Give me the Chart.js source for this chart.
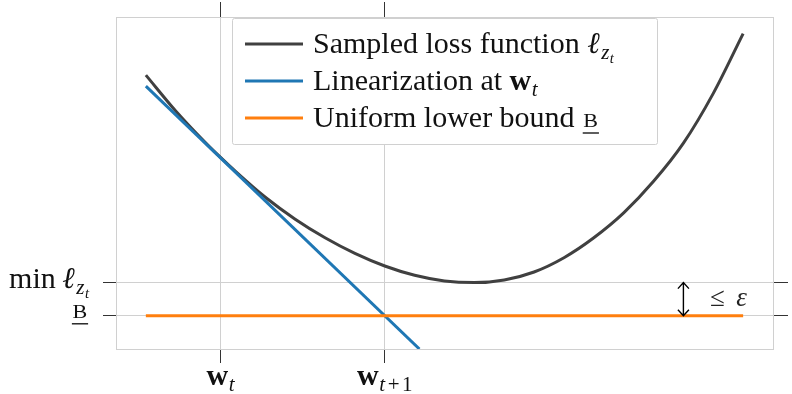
<!DOCTYPE html>
<html>
<head>
<meta charset="utf-8">
<script src="https://cdn.jsdelivr.net/npm/chart.js@4/dist/chart.umd.min.js"></script>
<style>
  html, body { margin: 0; padding: 0; background: #ffffff; }
  #wrap { width: 792px; height: 394px; }
</style>
</head>
<body>
<div id="wrap"><canvas id="c" width="792" height="394"></canvas></div>
<script>
// ---------------- data ----------------
const lossX = [0, 0.5, 1, 1.25, 1.5, 2, 2.5, 3, 3.5, 4, 4.5, 5, 5.5, 6, 6.5, 7, 7.5, 8, 8.5, 9, 9.5, 10];
const lossY = [7.25, 6.17, 5.21, 4.77, 4.35, 3.57, 2.91, 2.35, 1.88, 1.50, 1.22, 1.05, 1.00, 1.08, 1.32, 1.75, 2.35, 3.10, 4.05, 5.20, 6.70, 8.50];
const linX = [0, 4.58];
const linY = [6.92, -1.0];
const boundX = [0, 10];
const boundY = [0, 0];
const seriesNames = [
  'Sampled loss function $\\ell_{z_t}$',
  'Linearization at $\\mathbf{w}_t$',
  'Uniform lower bound $\\underline{B}$'
];
const xTickValues = [1.25, 4];
const xTickLabels = ['$\\mathbf{w}_t$', '$\\mathbf{w}_{t+1}$'];
const yTickValues = [0, 1];
const yTickLabels = ['$\\underline{B}$', '$\\min \\ell_{z_t}$'];
const gapX = 9;          // position of the epsilon annotation
const gapFrom = 0, gapTo = 1;
const gapLabel = '$\\leq \\varepsilon$';

// ---------------- styling ----------------
const FONT = 'Liberation Serif';
const TXT = '#111111';
const GRID = '#d0d0d0';
const TICK = '#333333';
const COLORS = ['#404040', '#1f77b4', '#ff7f0e'];

// --------- tiny TeX-like text renderer (canvas text) ----------
function glyphs(ctx, t, x, y, size, style, draw, hscale) {
  ctx.font = style + size + 'px "' + FONT + '"';
  const w = ctx.measureText(t).width * (hscale || 1);
  if (draw) {
    if (hscale && hscale !== 1) {
      ctx.save(); ctx.translate(x, y); ctx.scale(hscale, 1); ctx.fillText(t, 0, 0); ctx.restore();
    } else ctx.fillText(t, x, y);
  }
  return w;
}
function group(s, i) {
  let depth = 0, j = i;
  for (; j < s.length; j++) {
    if (s[j] === '{') depth++;
    else if (s[j] === '}') { depth--; if (depth === 0) break; }
  }
  return [s.slice(i + 1, j), j + 1];
}
function runMath(ctx, s, x, y, size, draw) {
  let i = 0, cx = x;
  while (i < s.length) {
    const c = s[i];
    if (c === '\\') {
      const m = /^\\([a-zA-Z]+)/.exec(s.slice(i));
      const cmd = m[1]; i += m[0].length;
      if (cmd === 'mathbf') {
        const r = group(s, i); i = r[1];
        cx += glyphs(ctx, r[0], cx, y, size, 'bold ', draw);
      } else if (cmd === 'underline') {
        const r = group(s, i); i = r[1];
        const w = glyphs(ctx, r[0], cx + size * 0.04, y, size * 0.64, '', draw, 1.15);
        if (draw) {
          ctx.save(); ctx.strokeStyle = TXT; ctx.lineWidth = Math.max(1, size * 0.045);
          ctx.beginPath(); ctx.moveTo(cx + size * 0.02, y + size * 0.2); ctx.lineTo(cx + w + size * 0.07, y + size * 0.2); ctx.stroke();
          ctx.restore();
        }
        cx += w + size * 0.1;
      } else if (cmd === 'ell') {
        cx += glyphs(ctx, '\u2113', cx, y, size, 'italic ', draw) + size * 0.03;
      } else if (cmd === 'min') {
        cx += glyphs(ctx, 'min', cx, y, size, '', draw) + size * 0.22;
      } else if (cmd === 'varepsilon') {
        cx += glyphs(ctx, '\u03b5', cx, y, size, 'italic ', draw);
      } else if (cmd === 'leq') {
        cx += size * 0.28;
        cx += glyphs(ctx, '\u2264', cx, y, size, '', draw) + size * 0.42;
      }
    } else if (c === '_') {
      i++;
      let arg;
      if (s[i] === '{') { const r = group(s, i); arg = r[0]; i = r[1]; }
      else { arg = s[i]; i++; }
      cx += runMath(ctx, arg, cx + size * 0.02, y + size * 0.2, size * 0.7, draw) + size * 0.02;
    } else if (c === ' ') {
      i++;
    } else if (c === '+') {
      cx += size * 0.12;
      cx += glyphs(ctx, '+', cx, y, size, '', draw) + size * 0.12;
      i++;
    } else {
      const isLetter = /[a-zA-Z]/.test(c);
      cx += glyphs(ctx, c, cx, y, size, isLetter ? 'italic ' : '', draw);
      i++;
    }
  }
  return cx - x;
}
function rich(ctx, s, x, y, size, draw) {
  let cx = x;
  s.split('$').forEach((p, k) => {
    if (k % 2 === 1) cx += runMath(ctx, p, cx, y, size, draw);
    else cx += glyphs(ctx, p, cx, y, size, '', draw);
  });
  return cx - x;
}

// ---------------- overlay plugin: legend, math tick labels, annotation ----------------
const overlay = {
  id: 'overlay',
  afterDraw(chart) {
    const ctx = chart.ctx;
    const xs = chart.scales.x, ys = chart.scales.y, area = chart.chartArea;
    ctx.save();
    ctx.fillStyle = TXT;
    ctx.textBaseline = 'alphabetic';
    ctx.textAlign = 'left';
    const S = 30;

    // x tick labels (centered on ticks)
    xTickValues.forEach((v, k) => {
      const w = rich(ctx, xTickLabels[k], 0, 0, S, false);
      rich(ctx, xTickLabels[k], xs.getPixelForValue(v) - w / 2, area.bottom + 36, S, true);
    });
    // y tick labels (right aligned)
    yTickValues.forEach((v, k) => {
      const w = rich(ctx, yTickLabels[k], 0, 0, S, false);
      rich(ctx, yTickLabels[k], area.left - 27 - w, ys.getPixelForValue(v) + (k === 0 ? 2 : 5), S, true);
    });

    // epsilon gap annotation
    const ax = xs.getPixelForValue(gapX);
    const y0 = ys.getPixelForValue(gapFrom), y1 = ys.getPixelForValue(gapTo);
    ctx.strokeStyle = '#000'; ctx.lineWidth = 1.4;
    ctx.beginPath();
    ctx.moveTo(ax, y0); ctx.lineTo(ax, y1);
    ctx.moveTo(ax - 5.5, y1 + 6); ctx.lineTo(ax, y1); ctx.lineTo(ax + 5.5, y1 + 6);
    ctx.moveTo(ax - 5.5, y0 - 6); ctx.lineTo(ax, y0); ctx.lineTo(ax + 5.5, y0 - 6);
    ctx.stroke();
    ctx.fillStyle = '#222';
    rich(ctx, gapLabel, ax + 19, (y0 + y1) / 2 + 7, 27, true);

    // legend
    const lx = 232, ly = 18, lw = 425, lh = 126;
    ctx.fillStyle = '#ffffff';
    ctx.strokeStyle = GRID; ctx.lineWidth = 1;
    ctx.beginPath();
    ctx.roundRect(lx + 0.5, ly + 0.5, lw, lh, 2);
    ctx.fill(); ctx.stroke();
    const rows = [44, 81, 118];
    seriesNames.forEach((name, k) => {
      ctx.strokeStyle = COLORS[k]; ctx.lineWidth = 3;
      ctx.beginPath(); ctx.moveTo(245, rows[k]); ctx.lineTo(303, rows[k]); ctx.stroke();
      ctx.fillStyle = TXT;
      rich(ctx, name, 313, rows[k] + 9, S, true);
    });
    ctx.restore();
  }
};

// ---------------- chart ----------------
const pts = (xa, ya) => xa.map((x, i) => ({ x: x, y: ya[i] }));
const tickAxis = (pos, vals, len) => ({
  type: 'linear', position: pos,
  afterBuildTicks: s => { s.ticks = vals.map(v => ({ value: v })); },
  ticks: { display: false },
  grid: { display: true, color: GRID, lineWidth: 1, drawOnChartArea: pos === 'bottom' || pos === 'left',
          drawTicks: true, tickLength: len, tickColor: TICK, tickWidth: 1 },
  border: { display: true, color: GRID, width: 1 }
});
const xAx = (pos) => Object.assign(tickAxis(pos, xTickValues, pos === 'top' ? 15 : 14), { min: -0.5, max: 10.5 });
const yAx = (pos) => Object.assign(tickAxis(pos, yTickValues, pos === 'left' ? 13 : 15), { min: -1, max: 9 });

new Chart(document.getElementById('c'), {
  type: 'line',
  data: {
    datasets: [
      { label: seriesNames[0], data: pts(lossX, lossY), borderColor: COLORS[0], borderWidth: 3,
        pointRadius: 0, cubicInterpolationMode: 'monotone', order: 3, xAxisID: 'x', yAxisID: 'y' },
      { label: seriesNames[1], data: pts(linX, linY), borderColor: COLORS[1], borderWidth: 3,
        pointRadius: 0, order: 2, xAxisID: 'x', yAxisID: 'y' },
      { label: seriesNames[2], data: pts(boundX, boundY), borderColor: COLORS[2], borderWidth: 3,
        pointRadius: 0, order: 1, xAxisID: 'x', yAxisID: 'y' }
    ]
  },
  options: {
    responsive: false,
    devicePixelRatio: 1,
    animation: false,
    layout: { padding: { left: 103, right: 4, top: 2, bottom: 31 } },
    plugins: { legend: { display: false }, tooltip: { enabled: false } },
    scales: { x: xAx('bottom'), x2: xAx('top'), y: yAx('left'), y2: yAx('right') }
  },
  plugins: [overlay]
});
</script>
</body>
</html>
